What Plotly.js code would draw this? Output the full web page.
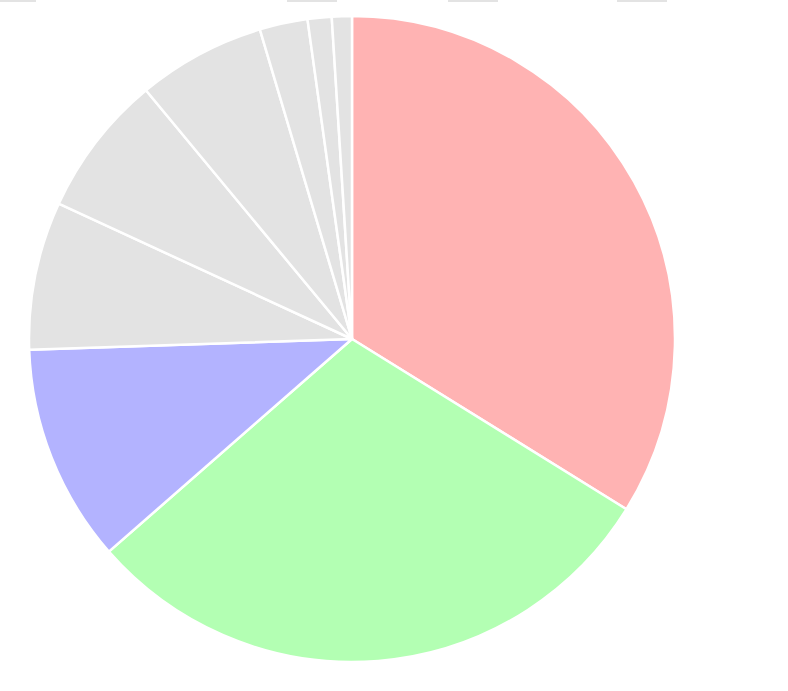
<!DOCTYPE html>
<html>
<head>
<meta charset="utf-8">
<script src="https://cdn.plot.ly/plotly-3.0.1.min.js"></script>
<style>html,body{margin:0;padding:0;background:#fff;}#chart{width:788px;height:691px;}</style>
</head>
<body>
<div id="chart"></div>
<script>
const labels = ["Series A", "Series B", "Series C", "Other 1", "Other 2", "Other 3", "Other 4", "Other 5", "Other 6"];
const values = [33.8, 29.7, 10.9, 7.4, 7.1, 6.4, 2.4, 1.2, 1.0];
const colors = ["#ffb3b3", "#b3ffb3", "#b3b3ff", "#e3e3e3", "#e3e3e3", "#e3e3e3", "#e3e3e3", "#e3e3e3", "#e3e3e3"];
// partially visible legend swatches at the top edge (pixel x ranges)
const swatchStarts = [0, 287, 448, 617];
const swatchEnds = [36, 337, 498, 667];

const plotW = 704, plotH = 646, topM = 16;
const shapes = swatchStarts.map((s, i) => ({
  type: "rect", xref: "paper", yref: "paper",
  x0: s / plotW, x1: swatchEnds[i] / plotW,
  y0: 1 + (topM - 2) / plotH, y1: 1 + (topM + 2) / plotH,
  fillcolor: "#e3e3e3", line: {width: 0}
}));

Plotly.newPlot("chart", [{
  type: "pie",
  labels: labels,
  values: values,
  sort: false,
  direction: "clockwise",
  rotation: 0,
  textinfo: "none",
  hoverinfo: "label+percent",
  marker: {colors: colors, line: {color: "#ffffff", width: 2.5}}
}], {
  width: 788, height: 691,
  margin: {l: 0, r: 84, t: topM, b: 29, pad: 0},
  showlegend: false,
  paper_bgcolor: "#ffffff",
  shapes: shapes
}, {displayModeBar: false, staticPlot: true});
</script>
</body>
</html>
